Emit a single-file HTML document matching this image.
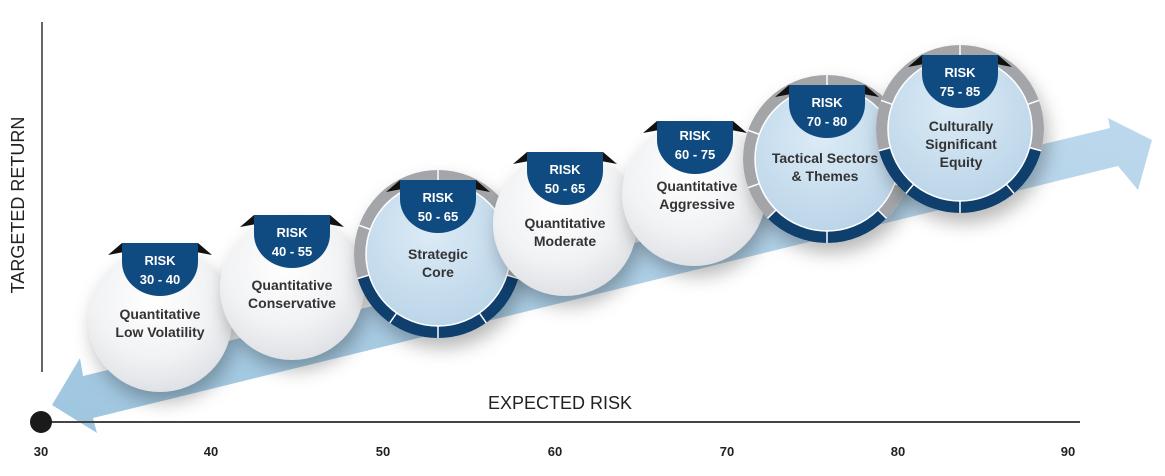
<!DOCTYPE html>
<html><head><meta charset="utf-8"><style>
body{margin:0;background:#fff;width:1165px;height:476px;overflow:hidden}
svg{display:block;font-family:"Liberation Sans",Arial,sans-serif}
</style></head><body>
<svg width="1165" height="476" viewBox="0 0 1165 476">
<defs>
<radialGradient id="wg" cx="0.45" cy="0.35" r="0.7">
<stop offset="0" stop-color="#ffffff"/><stop offset="0.6" stop-color="#f1f2f4"/><stop offset="1" stop-color="#dcdee2"/></radialGradient>
<radialGradient id="bg" cx="0.45" cy="0.35" r="0.7">
<stop offset="0" stop-color="#dcebf6"/><stop offset="1" stop-color="#b9d4e8"/></radialGradient>
<linearGradient id="ag" x1="0" y1="1" x2="1" y2="0">
<stop offset="0" stop-color="#9fc6e0"/><stop offset="1" stop-color="#bcd8ec"/></linearGradient>
<filter id="sh" x="-30%" y="-30%" width="160%" height="170%">
<feDropShadow dx="4" dy="10" stdDeviation="9" flood-color="#000" flood-opacity="0.28"/></filter>
</defs>

<!-- arrow -->
<polygon points="52,405 80,358 83,376 1110,128 1108,118 1152,140 1138,190 1118,166 93,418 97,433" fill="url(#ag)"/>

<!-- axes -->
<line x1="42" y1="22" x2="42" y2="372" stroke="#333" stroke-width="1.5"/>
<line x1="41" y1="422" x2="1080" y2="422" stroke="#444" stroke-width="2"/>
<circle cx="41" cy="422" r="11" fill="#1a1a1a"/>
<text transform="translate(24,205) rotate(-90)" text-anchor="middle" font-size="18" fill="#222">TARGETED RETURN</text>
<text x="560" y="409" text-anchor="middle" font-size="18" fill="#222">EXPECTED RISK</text>
<g font-size="13" font-weight="bold" fill="#222" text-anchor="middle">
<text x="41" y="456">30</text><text x="211" y="456">40</text><text x="383" y="456">50</text>
<text x="555" y="456">60</text><text x="727" y="456">70</text><text x="898" y="456">80</text><text x="1068" y="456">90</text>
</g>

<!-- C1 -->
<g>
<circle cx="160" cy="320" r="72" fill="url(#wg)" filter="url(#sh)"/>
<polygon points="122,243 108,255 124,252" fill="#111"/><polygon points="198,243 212,255 196,252" fill="#111"/>
<path d="M122,243 H198 V262 A38,34 0 0 1 122,262 Z" fill="#0f4a80"/>
<g fill="#fff" font-size="13" font-weight="bold" text-anchor="middle"><text x="160" y="265">RISK</text><text x="160" y="284">30 - 40</text></g>
<g fill="#333" font-size="14" font-weight="bold" text-anchor="middle"><text x="160" y="319">Quantitative</text><text x="160" y="337">Low Volatility</text></g>
</g>

<!-- C2 -->
<g>
<circle cx="292" cy="288" r="72" fill="url(#wg)" filter="url(#sh)"/>
<polygon points="254,215 240,227 256,224" fill="#111"/><polygon points="330,215 344,227 328,224" fill="#111"/>
<path d="M254,215 H330 V234 A38,34 0 0 1 254,234 Z" fill="#0f4a80"/>
<g fill="#fff" font-size="13" font-weight="bold" text-anchor="middle"><text x="292" y="237">RISK</text><text x="292" y="256">40 - 55</text></g>
<g fill="#333" font-size="14" font-weight="bold" text-anchor="middle"><text x="292" y="290">Quantitative</text><text x="292" y="308">Conservative</text></g>
</g>

<!-- C3 ringed -->
<g>
<circle cx="438" cy="254" r="84" fill="#fff" filter="url(#sh)"/>
<circle cx="438" cy="254" r="78" fill="none" stroke="#a3a5a8" stroke-width="12"/>
<circle cx="438" cy="254" r="78" fill="none" stroke="#0f3f6d" stroke-width="12" pathLength="360" stroke-dasharray="146 214" stroke-dashoffset="-17" transform="rotate(0 438 254)"/>
<g stroke="#fff" stroke-width="1.5" transform="translate(438,254)">
<line x1="72" y1="0" x2="84" y2="0" transform="rotate(17)"/><line x1="72" y1="0" x2="84" y2="0" transform="rotate(55)"/>
<line x1="72" y1="0" x2="84" y2="0" transform="rotate(90)"/><line x1="72" y1="0" x2="84" y2="0" transform="rotate(125)"/>
<line x1="72" y1="0" x2="84" y2="0" transform="rotate(163)"/><line x1="72" y1="0" x2="84" y2="0" transform="rotate(200)"/>
<line x1="72" y1="0" x2="84" y2="0" transform="rotate(340)"/><line x1="72" y1="0" x2="84" y2="0" transform="rotate(270)"/>
</g>
<circle cx="438" cy="254" r="72" fill="url(#bg)" stroke="#fff" stroke-width="1.5"/>
<polygon points="400,180 386,192 402,189" fill="#111"/><polygon points="476,180 490,192 474,189" fill="#111"/>
<path d="M400,180 H476 V199 A38,34 0 0 1 400,199 Z" fill="#0f4a80"/>
<g fill="#fff" font-size="13" font-weight="bold" text-anchor="middle"><text x="438" y="202">RISK</text><text x="438" y="221">50 - 65</text></g>
<g fill="#333" font-size="14" font-weight="bold" text-anchor="middle"><text x="438" y="259">Strategic</text><text x="438" y="277">Core</text></g>
</g>

<!-- C4 -->
<g>
<circle cx="565" cy="224" r="72" fill="url(#wg)" filter="url(#sh)"/>
<polygon points="527,152 513,164 529,161" fill="#111"/><polygon points="603,152 617,164 601,161" fill="#111"/>
<path d="M527,152 H603 V171 A38,34 0 0 1 527,171 Z" fill="#0f4a80"/>
<g fill="#fff" font-size="13" font-weight="bold" text-anchor="middle"><text x="565" y="174">RISK</text><text x="565" y="193">50 - 65</text></g>
<g fill="#333" font-size="14" font-weight="bold" text-anchor="middle"><text x="565" y="228">Quantitative</text><text x="565" y="246">Moderate</text></g>
</g>

<!-- C5 -->
<g>
<circle cx="694" cy="194" r="72" fill="url(#wg)" filter="url(#sh)"/>
<polygon points="657,121 643,133 659,130" fill="#111"/><polygon points="733,121 747,133 731,130" fill="#111"/>
<path d="M657,121 H733 V140 A38,34 0 0 1 657,140 Z" fill="#0f4a80"/>
<g fill="#fff" font-size="13" font-weight="bold" text-anchor="middle"><text x="695" y="140">RISK</text><text x="695" y="159">60 - 75</text></g>
<g fill="#333" font-size="14" font-weight="bold" text-anchor="middle"><text x="697" y="191">Quantitative</text><text x="697" y="209">Aggressive</text></g>
</g>

<!-- C6 ringed -->
<g>
<circle cx="827" cy="159" r="84" fill="#fff" filter="url(#sh)"/>
<circle cx="827" cy="159" r="78" fill="none" stroke="#a3a5a8" stroke-width="12"/>
<circle cx="827" cy="159" r="78" fill="none" stroke="#0f3f6d" stroke-width="12" pathLength="360" stroke-dasharray="90 270" stroke-dashoffset="-45"/>
<g stroke="#fff" stroke-width="1.5" transform="translate(827,159)">
<line x1="72" y1="0" x2="84" y2="0" transform="rotate(45)"/><line x1="72" y1="0" x2="84" y2="0" transform="rotate(90)"/>
<line x1="72" y1="0" x2="84" y2="0" transform="rotate(135)"/><line x1="72" y1="0" x2="84" y2="0" transform="rotate(160)"/>
<line x1="72" y1="0" x2="84" y2="0" transform="rotate(200)"/><line x1="72" y1="0" x2="84" y2="0" transform="rotate(270)"/>
<line x1="72" y1="0" x2="84" y2="0" transform="rotate(340)"/><line x1="72" y1="0" x2="84" y2="0" transform="rotate(20)"/>
</g>
<circle cx="827" cy="159" r="72" fill="url(#bg)" stroke="#fff" stroke-width="1.5"/>
<polygon points="789,85 775,97 791,94" fill="#111"/><polygon points="865,85 879,97 863,94" fill="#111"/>
<path d="M789,85 H865 V104 A38,34 0 0 1 789,104 Z" fill="#0f4a80"/>
<g fill="#fff" font-size="13" font-weight="bold" text-anchor="middle"><text x="827" y="107">RISK</text><text x="827" y="126">70 - 80</text></g>
<g fill="#333" font-size="14" font-weight="bold" text-anchor="middle"><text x="825" y="163">Tactical Sectors</text><text x="825" y="181">&amp; Themes</text></g>
</g>

<!-- C7 ringed -->
<g>
<circle cx="960" cy="129" r="84" fill="#fff" filter="url(#sh)"/>
<circle cx="960" cy="129" r="78" fill="none" stroke="#a3a5a8" stroke-width="12"/>
<circle cx="960" cy="129" r="78" fill="none" stroke="#0f3f6d" stroke-width="12" pathLength="360" stroke-dasharray="150 210" stroke-dashoffset="-15"/>
<g stroke="#fff" stroke-width="1.5" transform="translate(960,129)">
<line x1="72" y1="0" x2="84" y2="0" transform="rotate(15)"/><line x1="72" y1="0" x2="84" y2="0" transform="rotate(50)"/>
<line x1="72" y1="0" x2="84" y2="0" transform="rotate(90)"/><line x1="72" y1="0" x2="84" y2="0" transform="rotate(130)"/>
<line x1="72" y1="0" x2="84" y2="0" transform="rotate(165)"/><line x1="72" y1="0" x2="84" y2="0" transform="rotate(200)"/>
<line x1="72" y1="0" x2="84" y2="0" transform="rotate(270)"/><line x1="72" y1="0" x2="84" y2="0" transform="rotate(340)"/>
</g>
<circle cx="960" cy="129" r="72" fill="url(#bg)" stroke="#fff" stroke-width="1.5"/>
<polygon points="922,55 908,67 924,64" fill="#111"/><polygon points="998,55 1012,67 996,64" fill="#111"/>
<path d="M922,55 H998 V74 A38,34 0 0 1 922,74 Z" fill="#0f4a80"/>
<g fill="#fff" font-size="13" font-weight="bold" text-anchor="middle"><text x="960" y="77">RISK</text><text x="960" y="96">75 - 85</text></g>
<g fill="#333" font-size="14" font-weight="bold" text-anchor="middle"><text x="961" y="131">Culturally</text><text x="961" y="149">Significant</text><text x="961" y="167">Equity</text></g>
</g>
</svg>
</body></html>
